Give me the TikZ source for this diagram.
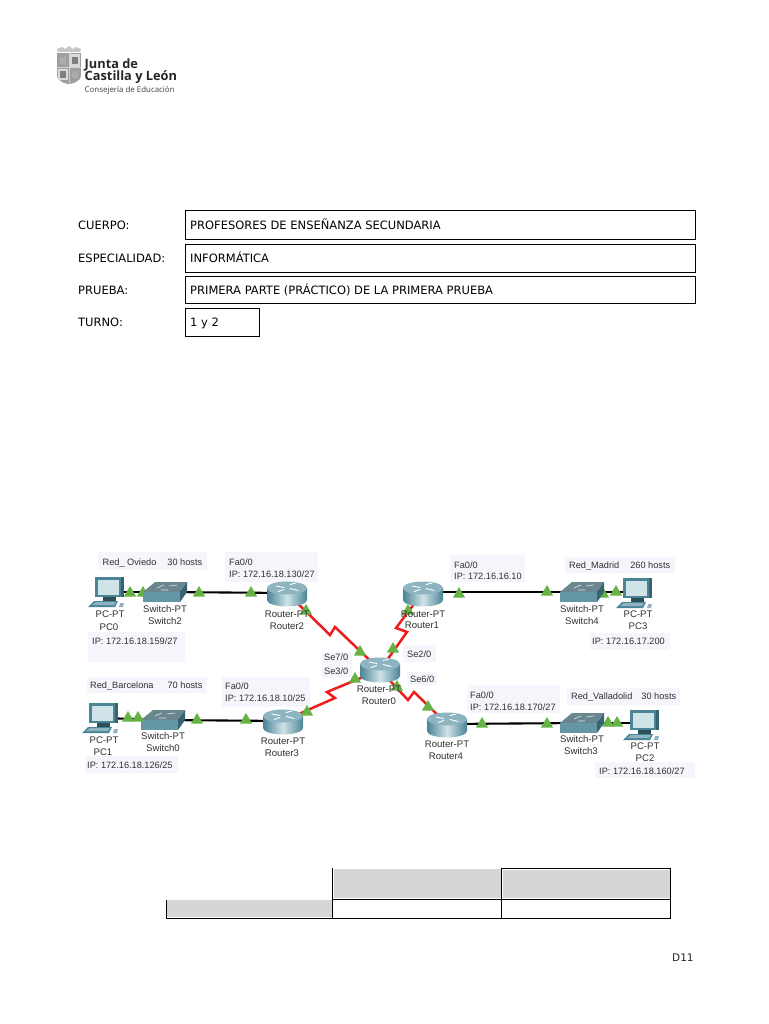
\documentclass[tikz,border=0pt]{standalone}
\usepackage{fontspec}
\setmainfont{Liberation Sans}
\newfontfamily\formfont{DejaVu Sans}
\newfontfamily\logofont{Open Sans}
\usetikzlibrary{shapes.geometric}
\definecolor{panel}{HTML}{F5F6FC}
\definecolor{txtgray}{HTML}{303030}
\definecolor{trigreen}{HTML}{66B245}
\definecolor{linkred}{HTML}{EE1C1C}
\definecolor{cellgray}{HTML}{D6D6D6}
\definecolor{tealdark}{HTML}{4A8496}
\definecolor{teallight}{HTML}{CFE3E8}
\definecolor{tealtop}{HTML}{8DB4C0}
\tikzset{
  x=1pt,y=-1pt,
  formbox/.style={draw=black,line width=1pt,fill=white},
  formtxt/.style={font=\formfont\fontsize{11.5}{13}\selectfont,anchor=base west,inner sep=0pt,text=black},
  lbl/.style={font=\fontsize{9.2}{11}\selectfont,anchor=base west,inner sep=0pt,text=txtgray},
  devlbl/.style={font=\fontsize{9.6}{11}\selectfont,anchor=base,inner sep=0pt,text=txtgray},
  panelbox/.style={fill=panel,draw=none},
  dev/.style={inner sep=0pt,minimum size=1pt,draw=none},
  ether/.style={draw=black,line width=2.1pt},
  serial/.style={draw=linkred,line width=2.5pt,line join=miter},
  tri/.style={regular polygon,regular polygon sides=3,fill=trigreen,draw=none,inner sep=0pt,minimum size=14pt},
  router/.pic={
    \path[left color=tealdark,right color=tealdark,middle color=teallight]
      (-20,-6) -- (-20,6) arc[start angle=180,end angle=360,x radius=20pt,y radius=6.5pt] -- (20,-6) -- cycle;
    \fill[tealtop] (0,-6) ellipse[x radius=20pt,y radius=6.5pt];
    \draw[white,line width=.9pt,line cap=round] (-11,-8)--(-3,-6.5) (3,-9.5)--(9,-11) (-9,-2.5)--(-3,-4.5) (3,-5.5)--(11,-3.5);
  },
  switchdev/.pic={
    \fill[tealtop!75!black] (-22,0)--(-10,-10)--(22,-10)--(15,0)--cycle;
    \draw[white!70!tealtop,line width=.6pt] (-8,-4)--(-1,-7) (4,-6)--(12,-7) (-4,-2)--(3,-2);
    \fill[tealdark!85!white] (-22,0)--(15,0)--(15,10)--(-22,10)--cycle;
    \fill[tealdark!75!black] (15,0)--(22,-10)--(22,0)--(15,10)--cycle;
  },
  pcdev/.pic={
    \fill[tealdark!75!black] (-14,-11)--(15,-11)--(15,9)--(-14,9)--cycle;
    \fill[tealdark] (-14,-11)--(12,-11)--(12,9)--(-14,9)--cycle;
    \fill[teallight] (-11.5,-8.5)--(9.5,-8.5)--(9.5,6.5)--(-11.5,6.5)--cycle;
    \fill[tealdark!60!black] (-6,9)--(7,9)--(7,13)--(-6,13)--cycle;
    \fill[tealdark] (-15,13)--(9,13)--(6,19)--(-21,19)--cycle;
    \fill[tealtop] (-13,14)--(7,14)--(5,17)--(-17,17)--cycle;
    \fill[tealtop] (11,15)--(15,15)--(14,19)--(10,19)--cycle;
  }
}
\begin{document}
\begin{tikzpicture}
\useasboundingbox (0,0) rectangle (768,1024);
\fill[white] (0,0) rectangle (768,1024);

% logo
\fill[gray!75] (57,53) rectangle (81,75);
\fill[gray!75] (57,75) .. controls (57,83) and (69,84) .. (69,84) .. controls (69,84) and (81,83) .. (81,75) -- cycle;
\fill[gray!35] (68.5,53) rectangle (69.5,83);
\fill[gray!35] (57,67.5) rectangle (81,68.5);
\fill[white!70!gray] (69.7,54) rectangle (80,67);
\fill[white!70!gray] (58,69) rectangle (68.3,80);
\fill[gray] (72,57) rectangle (78,64);
\fill[gray] (60,71) rectangle (66,78);
\fill[gray!65] (60,57) rectangle (66,64);
\fill[gray!65] (72,71) rectangle (78,78);
\fill[gray!45] (57,49) -- (58,52) -- (80,52) -- (81,49) -- (76,47) -- (73,49) -- (69,46) -- (65,49) -- (62,47) -- cycle;
\node[font=\logofont\fontsize{12.8}{14}\selectfont\bfseries,anchor=base west,inner sep=0pt,text=black!85] (logoa) at (84.5,69) {Junta de};
\node[font=\logofont\fontsize{12.8}{14}\selectfont\bfseries,anchor=base west,inner sep=0pt,text=black!85] (logob) at (84.5,81) {Castilla y León};
\node[font=\logofont\fontsize{7.9}{9}\selectfont,anchor=base west,inner sep=0pt,text=black!75] (logoc) at (84.5,93) {Consejería de Educación};

% form
\draw[formbox] (185,211) rectangle (695,239);
\draw[formbox] (185,244) rectangle (695,272);
\draw[formbox] (185,276) rectangle (695,303);
\draw[formbox] (185,308) rectangle (259,336);
\node[formtxt] (fa1) at (78,229.5) {CUERPO:};
\node[formtxt] (fa2) at (78,262) {ESPECIALIDAD:};
\node[formtxt] (fa3) at (78,294) {PRUEBA:};
\node[formtxt] (fa4) at (78,326.5) {TURNO:};
\node[formtxt] (fb1) at (190,229.5) {PROFESORES DE ENSEÑANZA SECUNDARIA};
\node[formtxt] (fb2) at (190,262) {INFORMÁTICA};
\node[formtxt] (fb3) at (190,294) {PRIMERA PARTE (PRÁCTICO) DE LA PRIMERA PRUEBA};
\node[formtxt] (fb4) at (190,326.5) {1 y 2};

% panels
\foreach \a/\b/\c/\d in {98/552/207/570, 225/552/318/582, 88/632/185/662, 322/652/352/678, 87/677/207/693, 222/677/310/707, 85/756/178/773, 450/555/525/582, 565/557/675/573, 590/633/670/650, 403/645/436/662, 407/672/437/685, 467/685/560/713, 567/688/680/705, 595/762/695/778}
  \fill[panelbox] (\a,\b) rectangle (\c,\d);

% device anchors
\node[dev] (pc0) at (109,592) {};
\node[dev] (sw2) at (165,592) {};
\node[dev] (r2) at (287,593) {};
\node[dev] (r1) at (423,592) {};
\node[dev] (sw4) at (582,592) {};
\node[dev] (pc3) at (637,592) {};
\node[dev] (pc1) at (103,718) {};
\node[dev] (sw0) at (163,720) {};
\node[dev] (r3) at (283,721) {};
\node[dev] (r0) at (380,670) {};
\node[dev] (r4) at (447,724) {};
\node[dev] (sw3) at (582,723) {};
\node[dev] (pc2) at (644,723) {};

% links
\draw[ether] (pc0) -- (sw2);
\draw[ether] (sw2) -- (r2);
\draw[ether] (r1) -- (sw4);
\draw[ether] (sw4) -- (pc3);
\draw[ether] (pc1) -- (sw0);
\draw[ether] (sw0) -- (r3);
\draw[ether] (r4) -- (sw3);
\draw[ether] (sw3) -- (pc2);
\coordinate (za) at (330,635); \coordinate (zb) at (335,627);
\coordinate (zc) at (335,698); \coordinate (zd) at (327,692);
\coordinate (ze) at (396,628); \coordinate (zf) at (407,632);
\coordinate (zg) at (408,700); \coordinate (zh) at (414,692);
\draw[serial] (r2) -- (za) -- (zb) -- (r0);
\draw[serial] (r3) -- (zc) -- (zd) -- (r0);
\draw[serial] (r1) -- (ze) -- (zf) -- (r0);
\draw[serial] (r0) -- (zg) -- (zh) -- (r4);

% triangles behind devices
\node[tri] (tb1) at (143,593) {};
\node[tri] (tb2) at (603,594) {};

% devices
\pic at (109,588) {pcdev};
\pic at (637,589) {pcdev};
\pic at (103,714) {pcdev};
\pic at (644,721) {pcdev};
\pic at (165,592) {switchdev};
\pic at (582,592) {switchdev};
\pic at (163,720) {switchdev};
\pic at (582,723) {switchdev};
\pic at (287,594) {router};
\pic at (423,594) {router};
\pic at (283,722) {router};
\pic at (380,670) {router};
\pic at (447,725) {router};

% triangles
\foreach \x/\y [count=\i] in {130/593, 199/593, 251/593, 306/611, 360/652, 355/679, 307/712, 408/611, 393/649, 397/687, 428/707, 459/594, 547/592, 616/592, 482/724, 547/724, 608/723, 617/723, 128/718, 138/718, 197/720, 246/720}
  \node[tri] (t\i) at (\x,\y) {};

% labels
\node[lbl] (l1) at (102.5,565) {Red\_ Oviedo\hspace{11pt}30 hosts};
\node[lbl] (l2) at (229,565) {Fa0/0};
\node[lbl] (l3) at (229,577) {IP: 172.16.18.130/27};
\node[lbl] (l4) at (92,644) {IP: 172.16.18.159/27};
\node[lbl] (l5) at (324,660) {Se7/0};
\node[lbl] (l6) at (324,674) {Se3/0};
\node[lbl] (l7) at (90,688) {Red\_Barcelona\hspace{14pt}70 hosts};
\node[lbl] (l8) at (225,689) {Fa0/0};
\node[lbl] (l9) at (225,701) {IP: 172.16.18.10/25};
\node[lbl] (l10) at (87,768) {IP: 172.16.18.126/25};
\node[lbl] (l11) at (454,568) {Fa0/0};
\node[lbl] (l12) at (454,579) {IP: 172.16.16.10};
\node[lbl] (l13) at (569,568) {Red\_Madrid\hspace{11pt}260 hosts};
\node[lbl] (l14) at (592,644) {IP: 172.16.17.200};
\node[lbl] (l15) at (407,657) {Se2/0};
\node[lbl] (l16) at (410,682) {Se6/0};
\node[lbl] (l17) at (470,698) {Fa0/0};
\node[lbl] (l18) at (470,710) {IP: 172.16.18.170/27};
\node[lbl] (l19) at (571,699) {Red\_Valladolid\hspace{9pt}30 hosts};
\node[lbl] (l20) at (599,774) {IP: 172.16.18.160/27};

\node[devlbl] (d1) at (110,617) {PC-PT};
\node[devlbl] (d2) at (109,630) {PC0};
\node[devlbl] (d3) at (165,612) {Switch-PT};
\node[devlbl] (d4) at (165,624) {Switch2};
\node[devlbl] (d5) at (287,617) {Router-PT};
\node[devlbl] (d6) at (287,629) {Router2};
\node[devlbl] (d7) at (104,743) {PC-PT};
\node[devlbl] (d8) at (103,755) {PC1};
\node[devlbl] (d9) at (163,739) {Switch-PT};
\node[devlbl] (d10) at (163,751) {Switch0};
\node[devlbl] (d11) at (283,744) {Router-PT};
\node[devlbl] (d12) at (282,756) {Router3};
\node[devlbl] (d13) at (379,692) {Router-PT};
\node[devlbl] (d14) at (379,704) {Router0};
\node[devlbl] (d15) at (423,617) {Router-PT};
\node[devlbl] (d16) at (422,628) {Router1};
\node[devlbl] (d17) at (582,612) {Switch-PT};
\node[devlbl] (d18) at (582,624) {Switch4};
\node[devlbl] (d19) at (638,617) {PC-PT};
\node[devlbl] (d20) at (638,629) {PC3};
\node[devlbl] (d21) at (447,747) {Router-PT};
\node[devlbl] (d22) at (446,759) {Router4};
\node[devlbl] (d23) at (582,742) {Switch-PT};
\node[devlbl] (d24) at (581,754) {Switch3};
\node[devlbl] (d25) at (645,749) {PC-PT};
\node[devlbl] (d26) at (645,761) {PC2};

% table
\fill[cellgray] (333.5,869) rectangle (501,898);
\fill[cellgray] (502.5,869.5) rectangle (669.5,898);
\fill[cellgray] (167,900) rectangle (332,917);
\draw[black,line width=1pt] (501.5,868) -- (670,868) -- (670,918.5) -- (166,918.5) -- (166,899.5);
\draw[black,line width=1pt] (332.5,868) -- (332.5,918.5);
\draw[black,line width=1pt] (501.5,868) -- (501.5,918.5);
\draw[black,line width=1pt] (332.5,899.5) -- (670,899.5);

\node[formtxt,font=\formfont\fontsize{10.5}{12}\selectfont,text=black!85] (page) at (672,961) {D11};
\end{tikzpicture}
\end{document}
